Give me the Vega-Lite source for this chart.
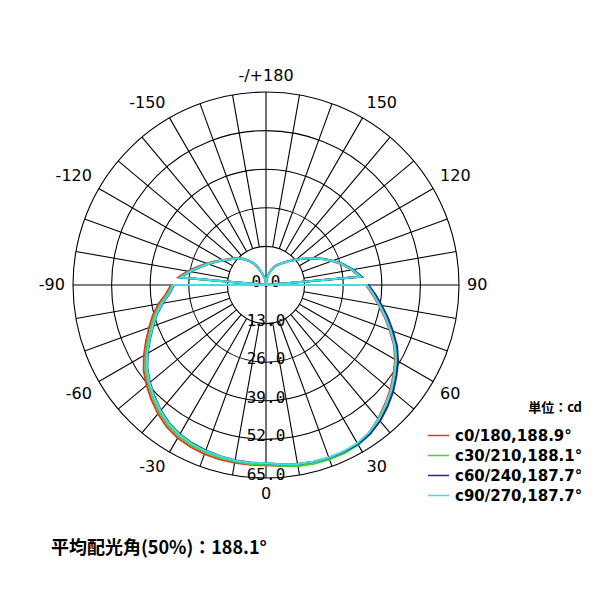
{
  "$schema": "https://vega.github.io/schema/vega-lite/v6.json",
  "width": 386,
  "height": 386,
  "autosize": "none",
  "padding": {"left": 73, "top": 92, "right": 141, "bottom": 122},
  "background": "white",
  "title": {
    "text": "平均配光角(50%)：188.1°",
    "orient": "bottom",
    "anchor": "start",
    "frame": "group",
    "dx": -22,
    "offset": 36,
    "font": "Noto Sans CJK JP",
    "fontSize": 18,
    "fontWeight": "bold",
    "color": "#000"
  },
  "datasets": {
    "rings": [{"r": 13}, {"r": 26}, {"r": 39}, {"r": 52}, {"r": 65}],
    "rlabels": [{"r": 0}, {"r": 13}, {"r": 26}, {"r": 39}, {"r": 52}, {"r": 65}],
    "spokes": [
      {"a": -170, "r0": 13}, {"a": -160, "r0": 13}, {"a": -150, "r0": 13}, {"a": -140, "r0": 13},
      {"a": -130, "r0": 13}, {"a": -120, "r0": 13}, {"a": -110, "r0": 13}, {"a": -100, "r0": 13},
      {"a": -90, "r0": 0}, {"a": -80, "r0": 13}, {"a": -70, "r0": 13}, {"a": -60, "r0": 13},
      {"a": -50, "r0": 13}, {"a": -40, "r0": 13}, {"a": -30, "r0": 13}, {"a": -20, "r0": 13},
      {"a": -10, "r0": 13}, {"a": 0, "r0": 0}, {"a": 10, "r0": 13}, {"a": 20, "r0": 13},
      {"a": 30, "r0": 13}, {"a": 40, "r0": 13}, {"a": 50, "r0": 13}, {"a": 60, "r0": 13},
      {"a": 70, "r0": 13}, {"a": 80, "r0": 13}, {"a": 90, "r0": 0}, {"a": 100, "r0": 13},
      {"a": 110, "r0": 13}, {"a": 120, "r0": 13}, {"a": 130, "r0": 13}, {"a": 140, "r0": 13},
      {"a": 150, "r0": 13}, {"a": 160, "r0": 13}, {"a": 170, "r0": 13}, {"a": 180, "r0": 0}
    ],
    "alabels": [
      {"a": -150, "t": "-150"}, {"a": -120, "t": "-120"}, {"a": -90, "t": "-90"},
      {"a": -60, "t": "-60"}, {"a": -30, "t": "-30"}, {"a": 0, "t": "0"},
      {"a": 30, "t": "30"}, {"a": 60, "t": "60"}, {"a": 90, "t": "90"},
      {"a": 120, "t": "120"}, {"a": 150, "t": "150"}, {"a": 180, "t": "-/+180"}
    ],
    "curves": [
      {"a": -180, "c0": 0, "c30": 0, "c60": 0, "c90": 0},
      {"a": -175, "c0": 1.0, "c30": 1.0, "c60": 1.0, "c90": 1.0},
      {"a": -170, "c0": 2.2, "c30": 2.2, "c60": 2.2, "c90": 2.2},
      {"a": -165, "c0": 3.3, "c30": 3.2, "c60": 3.1, "c90": 3.2},
      {"a": -160, "c0": 4.7, "c30": 4.6, "c60": 4.5, "c90": 4.6},
      {"a": -155, "c0": 6.7, "c30": 6.6, "c60": 6.5, "c90": 6.6},
      {"a": -150, "c0": 8.6, "c30": 8.5, "c60": 8.3, "c90": 8.4},
      {"a": -145, "c0": 10.1, "c30": 10.0, "c60": 9.8, "c90": 9.9},
      {"a": -140, "c0": 11.6, "c30": 11.4, "c60": 11.2, "c90": 11.3},
      {"a": -135, "c0": 12.9, "c30": 12.7, "c60": 12.5, "c90": 12.6},
      {"a": -130, "c0": 14.1, "c30": 13.9, "c60": 13.7, "c90": 13.8},
      {"a": -125, "c0": 15.3, "c30": 15.1, "c60": 14.9, "c90": 15.0},
      {"a": -120, "c0": 16.9, "c30": 16.7, "c60": 16.5, "c90": 16.6},
      {"a": -115, "c0": 19.0, "c30": 18.7, "c60": 18.5, "c90": 18.6},
      {"a": -110, "c0": 21.2, "c30": 20.9, "c60": 20.6, "c90": 20.7},
      {"a": -105, "c0": 23.8, "c30": 23.4, "c60": 23.1, "c90": 23.2},
      {"a": -100, "c0": 26.8, "c30": 26.3, "c60": 25.9, "c90": 26.0},
      {"a": -95, "c0": 29.6, "c30": 29.1, "c60": 28.7, "c90": 28.8},
      {"a": -92.5, "c0": 0, "c30": 0, "c60": 0, "c90": 0},
      {"a": -90, "c0": 32.0, "c30": 31.6, "c60": 31.0, "c90": 31.2},
      {"a": -85, "c0": 33.8, "c30": 33.2, "c60": 32.6, "c90": 32.8},
      {"a": -80, "c0": 36.8, "c30": 36.0, "c60": 35.3, "c90": 35.5},
      {"a": -75, "c0": 39.5, "c30": 38.8, "c60": 38.0, "c90": 38.2},
      {"a": -70, "c0": 41.9, "c30": 41.2, "c60": 40.4, "c90": 40.6},
      {"a": -65, "c0": 44.6, "c30": 43.9, "c60": 43.1, "c90": 43.3},
      {"a": -60, "c0": 47.5, "c30": 46.8, "c60": 46.0, "c90": 46.2},
      {"a": -55, "c0": 50.3, "c30": 49.6, "c60": 48.8, "c90": 49.0},
      {"a": -50, "c0": 52.5, "c30": 51.8, "c60": 51.0, "c90": 51.2},
      {"a": -45, "c0": 54.6, "c30": 53.9, "c60": 53.1, "c90": 53.3},
      {"a": -40, "c0": 56.6, "c30": 55.9, "c60": 55.1, "c90": 55.3},
      {"a": -35, "c0": 58.3, "c30": 57.6, "c60": 56.8, "c90": 57.0},
      {"a": -30, "c0": 59.5, "c30": 58.8, "c60": 58.0, "c90": 58.2},
      {"a": -25, "c0": 60.2, "c30": 59.6, "c60": 58.8, "c90": 59.0},
      {"a": -20, "c0": 60.6, "c30": 60.0, "c60": 59.3, "c90": 59.5},
      {"a": -15, "c0": 60.8, "c30": 60.3, "c60": 59.7, "c90": 59.8},
      {"a": -10, "c0": 60.8, "c30": 60.4, "c60": 59.9, "c90": 60.0},
      {"a": -5, "c0": 60.8, "c30": 60.5, "c60": 60.0, "c90": 60.1},
      {"a": 0, "c0": 60.7, "c30": 60.5, "c60": 60.0, "c90": 60.0},
      {"a": 5, "c0": 61.2, "c30": 61.2, "c60": 60.6, "c90": 60.6},
      {"a": 10, "c0": 61.8, "c30": 61.9, "c60": 61.2, "c90": 61.2},
      {"a": 15, "c0": 62.2, "c30": 62.3, "c60": 61.6, "c90": 61.6},
      {"a": 20, "c0": 62.4, "c30": 62.5, "c60": 61.9, "c90": 61.8},
      {"a": 25, "c0": 62.3, "c30": 62.5, "c60": 62.0, "c90": 61.8},
      {"a": 30, "c0": 61.8, "c30": 62.2, "c60": 61.9, "c90": 61.5},
      {"a": 35, "c0": 60.6, "c30": 61.2, "c60": 61.2, "c90": 60.6},
      {"a": 40, "c0": 58.8, "c30": 59.4, "c60": 59.8, "c90": 59.0},
      {"a": 45, "c0": 56.7, "c30": 57.2, "c60": 57.9, "c90": 57.0},
      {"a": 50, "c0": 54.7, "c30": 55.2, "c60": 55.9, "c90": 55.0},
      {"a": 55, "c0": 52.4, "c30": 52.9, "c60": 53.6, "c90": 52.7},
      {"a": 60, "c0": 50.2, "c30": 50.7, "c60": 51.4, "c90": 50.5},
      {"a": 65, "c0": 47.5, "c30": 48.0, "c60": 48.7, "c90": 47.8},
      {"a": 70, "c0": 44.3, "c30": 44.8, "c60": 45.5, "c90": 44.6},
      {"a": 75, "c0": 41.3, "c30": 41.8, "c60": 42.5, "c90": 41.6},
      {"a": 80, "c0": 38.5, "c30": 39.0, "c60": 39.6, "c90": 38.8},
      {"a": 85, "c0": 36.0, "c30": 36.5, "c60": 37.0, "c90": 36.3},
      {"a": 90, "c0": 33.7, "c30": 34.1, "c60": 34.5, "c90": 34.0},
      {"a": 92.5, "c0": 0, "c30": 0, "c60": 0, "c90": 0},
      {"a": 95, "c0": 31.7, "c30": 32.1, "c60": 32.4, "c90": 32.0},
      {"a": 100, "c0": 29.3, "c30": 29.6, "c60": 29.8, "c90": 29.5},
      {"a": 105, "c0": 26.6, "c30": 26.9, "c60": 27.0, "c90": 26.8},
      {"a": 110, "c0": 23.6, "c30": 23.9, "c60": 24.0, "c90": 23.8},
      {"a": 115, "c0": 20.7, "c30": 20.9, "c60": 21.0, "c90": 20.8},
      {"a": 120, "c0": 17.9, "c30": 18.0, "c60": 18.1, "c90": 18.0},
      {"a": 125, "c0": 15.4, "c30": 15.5, "c60": 15.6, "c90": 15.5},
      {"a": 130, "c0": 13.2, "c30": 13.3, "c60": 13.4, "c90": 13.3},
      {"a": 135, "c0": 11.4, "c30": 11.5, "c60": 11.6, "c90": 11.5},
      {"a": 140, "c0": 9.9, "c30": 10.0, "c60": 10.1, "c90": 10.0},
      {"a": 145, "c0": 8.7, "c30": 8.8, "c60": 8.9, "c90": 8.8},
      {"a": 150, "c0": 7.7, "c30": 7.8, "c60": 7.9, "c90": 7.8},
      {"a": 155, "c0": 6.7, "c30": 6.8, "c60": 6.9, "c90": 6.8},
      {"a": 160, "c0": 5.5, "c30": 5.6, "c60": 5.7, "c90": 5.6},
      {"a": 165, "c0": 4.2, "c30": 4.3, "c60": 4.3, "c90": 4.3},
      {"a": 170, "c0": 2.9, "c30": 2.9, "c60": 2.9, "c90": 2.9},
      {"a": 175, "c0": 1.5, "c30": 1.5, "c60": 1.5, "c90": 1.5},
      {"a": 180, "c0": 0, "c30": 0, "c60": 0, "c90": 0}
    ]
  },
  "layer": [
    {
      "data": {"name": "rings"},
      "mark": {"type": "point", "shape": "circle", "filled": false, "stroke": "#000", "strokeWidth": 1.1, "opacity": 1},
      "encoding": {
        "x": {"datum": 0, "type": "quantitative", "scale": {"domain": [-65, 65], "nice": false, "zero": false}, "axis": null},
        "y": {"datum": 0, "type": "quantitative", "scale": {"domain": [-65, 65], "nice": false, "zero": false}, "axis": null},
        "size": {"field": "r", "type": "quantitative", "scale": {"type": "pow", "exponent": 2, "domain": [0, 65], "range": [0, 148996]}, "legend": null}
      }
    },
    {
      "data": {"name": "spokes"},
      "transform": [
        {"calculate": "datum.r0 * sin(datum.a * PI / 180)", "as": "sx"},
        {"calculate": "-datum.r0 * cos(datum.a * PI / 180)", "as": "sy"},
        {"calculate": "65 * sin(datum.a * PI / 180)", "as": "ex"},
        {"calculate": "-65 * cos(datum.a * PI / 180)", "as": "ey"}
      ],
      "mark": {"type": "rule", "stroke": "#000", "strokeWidth": 1.1},
      "encoding": {
        "x": {"field": "sx", "type": "quantitative"},
        "y": {"field": "sy", "type": "quantitative"},
        "x2": {"field": "ex"},
        "y2": {"field": "ey"}
      }
    },
    {
      "data": {"name": "rlabels"},
      "transform": [{"calculate": "-datum.r", "as": "ny"}],
      "mark": {"type": "text", "font": "DejaVu Sans Mono", "fontSize": 16, "color": "#000", "align": "center", "baseline": "alphabetic", "dy": 2},
      "encoding": {
        "x": {"datum": 0, "type": "quantitative"},
        "y": {"field": "ny", "type": "quantitative"},
        "text": {"field": "r", "type": "quantitative", "format": ".1f"}
      }
    },
    {
      "data": {"name": "alabels"},
      "transform": [
        {"calculate": "67.7 * sin(datum.a * PI / 180)", "as": "lx"},
        {"calculate": "-67.7 * cos(datum.a * PI / 180)", "as": "ly"}
      ],
      "mark": {
        "type": "text",
        "font": "DejaVu Sans",
        "fontSize": 16,
        "color": "#000",
        "align": {"expr": "datum.a == 0 || datum.a == 180 ? 'center' : (datum.a < 0 ? 'right' : 'left')"},
        "baseline": {"expr": "abs(datum.a) == 90 ? 'middle' : (abs(datum.a) < 90 ? 'top' : 'bottom')"}
      },
      "encoding": {
        "x": {"field": "lx", "type": "quantitative"},
        "y": {"field": "ly", "type": "quantitative"},
        "text": {"field": "t", "type": "nominal"}
      }
    },
    {
      "data": {"name": "curves"},
      "transform": [
        {"fold": ["c0", "c30", "c60", "c90"], "as": ["c", "v"]},
        {"calculate": "datum.v * sin(datum.a * PI / 180)", "as": "px"},
        {"calculate": "-datum.v * cos(datum.a * PI / 180)", "as": "py"}
      ],
      "mark": {"type": "line", "strokeWidth": 2},
      "encoding": {
        "x": {"field": "px", "type": "quantitative"},
        "y": {"field": "py", "type": "quantitative"},
        "order": {"field": "a", "type": "quantitative"},
        "color": {
          "field": "c",
          "type": "nominal",
          "scale": {"domain": ["c0", "c30", "c60", "c90"], "range": ["#e03a2e", "#3fd23f", "#2b2b8f", "#3ee0e0"]},
          "legend": {
            "title": "単位：cd",
            "orient": "none",
            "legendX": 354,
            "legendY": 310,
            "padding": 0,
            "titleAnchor": "end",
            "titleAlign": "right",
            "titleFont": "Noto Sans CJK JP",
            "titleFontSize": 13,
            "titleFontWeight": "bold",
            "titleColor": "#000",
            "titlePadding": 9,
            "symbolType": "stroke",
            "symbolSize": 441,
            "symbolStrokeWidth": 1.5,
            "labelFont": "DejaVu Sans",
            "labelFontSize": 15,
            "labelFontWeight": "bold",
            "labelColor": "#000",
            "labelOffset": 5,
            "rowPadding": 0,
            "labelExpr": "datum.label == 'c0' ? 'c0/180,188.9°' : datum.label == 'c30' ? 'c30/210,188.1°' : datum.label == 'c60' ? 'c60/240,187.7°' : 'c90/270,187.7°'"
          }
        }
      }
    }
  ],
  "config": {"view": {"stroke": null}}
}
